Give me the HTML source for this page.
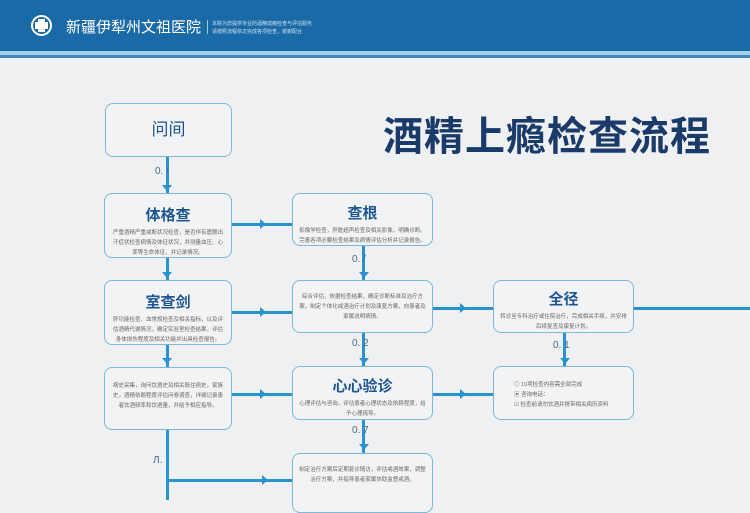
<!DOCTYPE html>
<html><head><meta charset="utf-8"><style>
body{margin:0;width:750px;height:500px;overflow:hidden;background:#eef0f2;font-family:"Liberation Sans","Noto Sans CJK SC",sans-serif;position:relative}
.hdr{position:absolute;left:0;top:0;width:750px;height:51px;background:#1a6aa8}
.s1{position:absolute;left:0;top:51px;width:750px;height:4px;background:#a9d0ea}
.s2{position:absolute;left:0;top:55px;width:750px;height:3px;background:#3d88bd}
.box{position:absolute;border:1.5px solid #7ab8dc;border-radius:8px;background:#f1f3f5;box-sizing:border-box;text-align:center;color:#555}
.box h3{margin:0;color:#1c5590;font-size:15px;font-weight:bold}
.box p{margin:3px 6px 0;font-size:5.5px;line-height:10px;color:#666}
.l{position:absolute;background:#2a92d0}
.lab{position:absolute;font-size:10px;color:#4a6a8a}
.ar{position:absolute;width:0;height:0;border-top:5px solid transparent;border-bottom:5px solid transparent;border-left:6px solid #2a92d0}
.ad{position:absolute;width:0;height:0;border-left:5px solid transparent;border-right:5px solid transparent;border-top:6px solid #2a92d0}
</style></head><body>
<div class="hdr"></div><div class="s1"></div><div class="s2"></div>
<div style="position:absolute;left:31px;top:15px;width:21px;height:21px;border:2px solid #fff;border-radius:50%;box-sizing:border-box"></div>
<div style="position:absolute;left:38px;top:19px;width:7px;height:13px;background:#fff"></div>
<div style="position:absolute;left:35px;top:22px;width:13px;height:7px;background:#fff"></div>
<div style="position:absolute;left:66px;top:16px;color:#fff;font-size:15px">新疆伊犁州文祖医院</div>
<div style="position:absolute;left:207px;top:20px;width:1px;height:14px;background:#9cc"></div>
<div style="position:absolute;left:212px;top:20px;color:#cfe0f0;font-size:5px;line-height:8px">本院为您提供专业的酒精成瘾检查与评估服务<br>请按照流程依次完成各项检查，谢谢配合</div>
<div style="position:absolute;left:383px;top:104px;color:#1a3a6a;font-size:40px;font-weight:bold;letter-spacing:1px">酒精上瘾检查流程</div>

<!-- lines -->
<div class="l" style="left:166px;top:157px;width:3px;height:343px"></div>
<div class="l" style="left:362px;top:246px;width:3px;height:210px"></div>
<div class="l" style="left:563px;top:333px;width:3px;height:34px"></div>
<div class="l" style="left:232px;top:223px;width:60px;height:3px"></div>
<div class="l" style="left:232px;top:311px;width:60px;height:3px"></div>
<div class="l" style="left:232px;top:393px;width:60px;height:3px"></div>
<div class="l" style="left:167px;top:479px;width:125px;height:3px"></div>
<div class="l" style="left:433px;top:307px;width:60px;height:3px"></div>
<div class="l" style="left:433px;top:393px;width:60px;height:3px"></div>
<div class="l" style="left:634px;top:307px;width:116px;height:3px"></div>
<div class="ar" style="left:260px;top:219px"></div>
<div class="ar" style="left:260px;top:307px"></div>
<div class="ar" style="left:260px;top:389px"></div>
<div class="ar" style="left:460px;top:303px"></div>
<div class="ar" style="left:460px;top:389px"></div>
<div class="ar" style="left:262px;top:475px"></div>
<div class="ad" style="left:162px;top:185px"></div>
<div class="ad" style="left:162px;top:272px"></div>
<div class="ad" style="left:162px;top:358px"></div>
<div class="ad" style="left:359px;top:272px"></div>
<div class="ad" style="left:359px;top:358px"></div>
<div class="ad" style="left:359px;top:444px"></div>
<div class="ad" style="left:560px;top:358px"></div>
<div class="lab" style="left:155px;top:166px">0. /</div>
<div class="lab" style="left:352px;top:254px">0. /</div>
<div class="lab" style="left:352px;top:338px">0. 2</div>
<div class="lab" style="left:352px;top:425px">0. 7</div>
<div class="lab" style="left:553px;top:340px">0. 1</div>
<div class="lab" style="left:153px;top:455px">Л.</div>

<!-- boxes -->
<div class="box" style="left:105px;top:103px;width:127px;height:54px"><h3 style="font-size:17px;line-height:52px;font-weight:normal">问间</h3></div>
<div class="box" style="left:104px;top:193px;width:128px;height:65px;padding-top:10px"><h3>体格查</h3><p>严重酒精严重戒断状况检查，是否伴有震颤出汗症状检查病情及体征状况，并测量血压、心率等生命体征，并记录情况。</p></div>
<div class="box" style="left:104px;top:280px;width:128px;height:65px;padding-top:10px"><h3>室查剑</h3><p>肝功能检查、血常规检查及相关指标，以及评估酒精代谢情况，确定实验室检查结果，评估身体损伤程度及相关功能并出具检查报告。</p></div>
<div class="box" style="left:104px;top:367px;width:128px;height:63px;padding-top:10px"><p>病史采集，询问饮酒史及相关既往病史，家族史，酒精依赖程度评估问卷调查，详细记录患者饮酒频率和饮酒量，并给予相应指导。</p></div>
<div class="box" style="left:292px;top:193px;width:141px;height:53px;padding-top:8px"><h3>查根</h3><p>影像学检查，肝脏超声检查及相关影像，明确诊断。完善各项必要检查结果及病情评估分析并记录报告。</p></div>
<div class="box" style="left:292px;top:280px;width:141px;height:53px;padding-top:8px"><p>综合评估，依据检查结果，确定诊断标准及治疗方案，制定个体化戒酒治疗计划及康复方案，向患者及家属说明病情。</p></div>
<div class="box" style="left:292px;top:366px;width:141px;height:54px;padding-top:8px"><h3>心心验诊</h3><p>心理评估与咨询，评估患者心理状态及依赖程度，给予心理疏导。</p></div>
<div class="box" style="left:292px;top:453px;width:141px;height:60px;padding-top:8px"><p>制定治疗方案后定期复诊随访，评估戒酒效果，调整治疗方案，并指导患者家属协助监督戒酒。</p></div>
<div class="box" style="left:493px;top:280px;width:141px;height:53px;padding-top:7px"><h3>全径</h3><p>转诊至专科治疗或住院治疗，完成相关手续，并安排后续复查及康复计划。</p></div>
<div class="box" style="left:493px;top:366px;width:141px;height:54px;padding-top:10px;text-align:left"><p style="margin-left:20px">◎ 10项检查内容需全部完成<br>▣ 咨询电话：<br>☑ 检查前请勿饮酒并携带相关病历资料</p></div>
</body></html>
